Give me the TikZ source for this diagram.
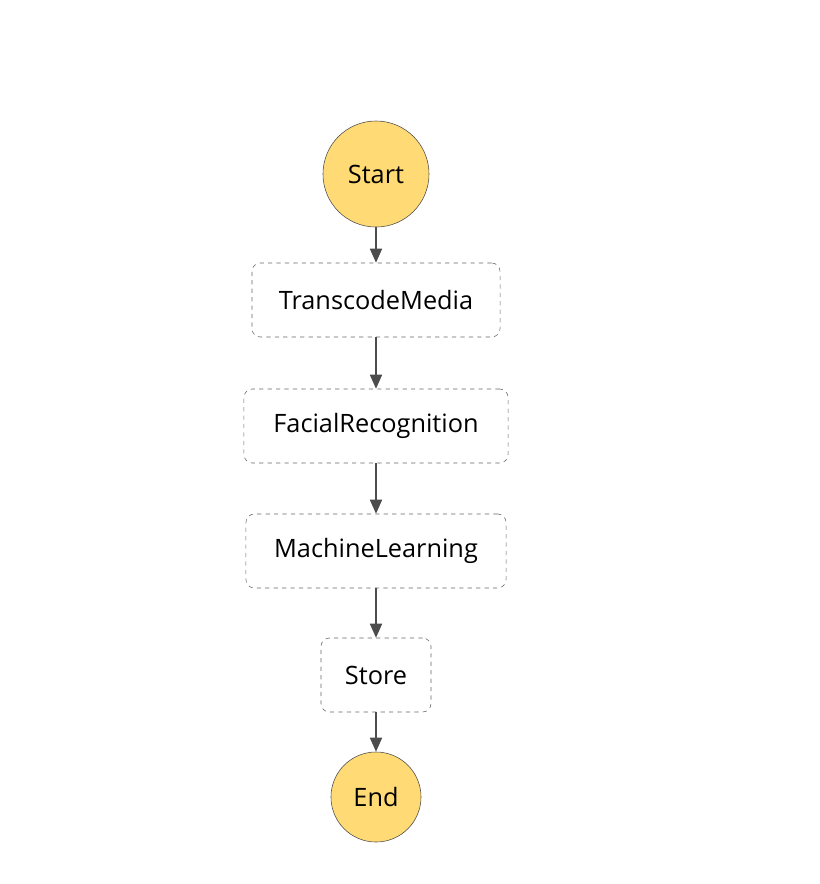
\documentclass[tikz,border=0pt]{standalone}
\usepackage{fontspec}
\setmainfont{Open Sans}
\usetikzlibrary{arrows.meta, positioning}

\begin{document}
\begin{tikzpicture}[
        x=0.025cm, y=-0.025cm,
        state/.style={circle, draw=black!70, fill=yellow!55!orange!60, minimum size=#1, inner sep=0pt, font=\fontsize{18}{21}\selectfont},
        task/.style={rectangle, draw=black!60, dashed, rounded corners=6pt, minimum height=1.85cm, minimum width=#1, align=center, font=\fontsize{18}{21}\selectfont},
        arrow/.style={-{Triangle[length=3.5mm, width=3mm]}, line width=1.2pt, draw=black!70},
    ]
        \useasboundingbox (0,0) rectangle (820,884);
        \definecolor{startfill}{HTML}{FFDA75}

        % States
        \node[state=2.65cm, fill=startfill] (start) at (376,174) {Start};
        \node[task=6.2cm] (transcode) at (376,300) {TranscodeMedia};
        \node[task=6.6cm] (facial) at (376,426) {FacialRecognition};
        \node[task=6.5cm] (ml) at (376,551) {MachineLearning};
        \node[task=2.75cm] (store) at (376,675) {Store};
        \node[state=2.25cm, fill=startfill] (end) at (376,797) {End};

        % Transitions
        \draw[arrow] (start) -- (transcode);
        \draw[arrow] (transcode) -- (facial);
        \draw[arrow] (facial) -- (ml);
        \draw[arrow] (ml) -- (store);
        \draw[arrow] (store) -- (end);
    \end{tikzpicture}
\end{document}
